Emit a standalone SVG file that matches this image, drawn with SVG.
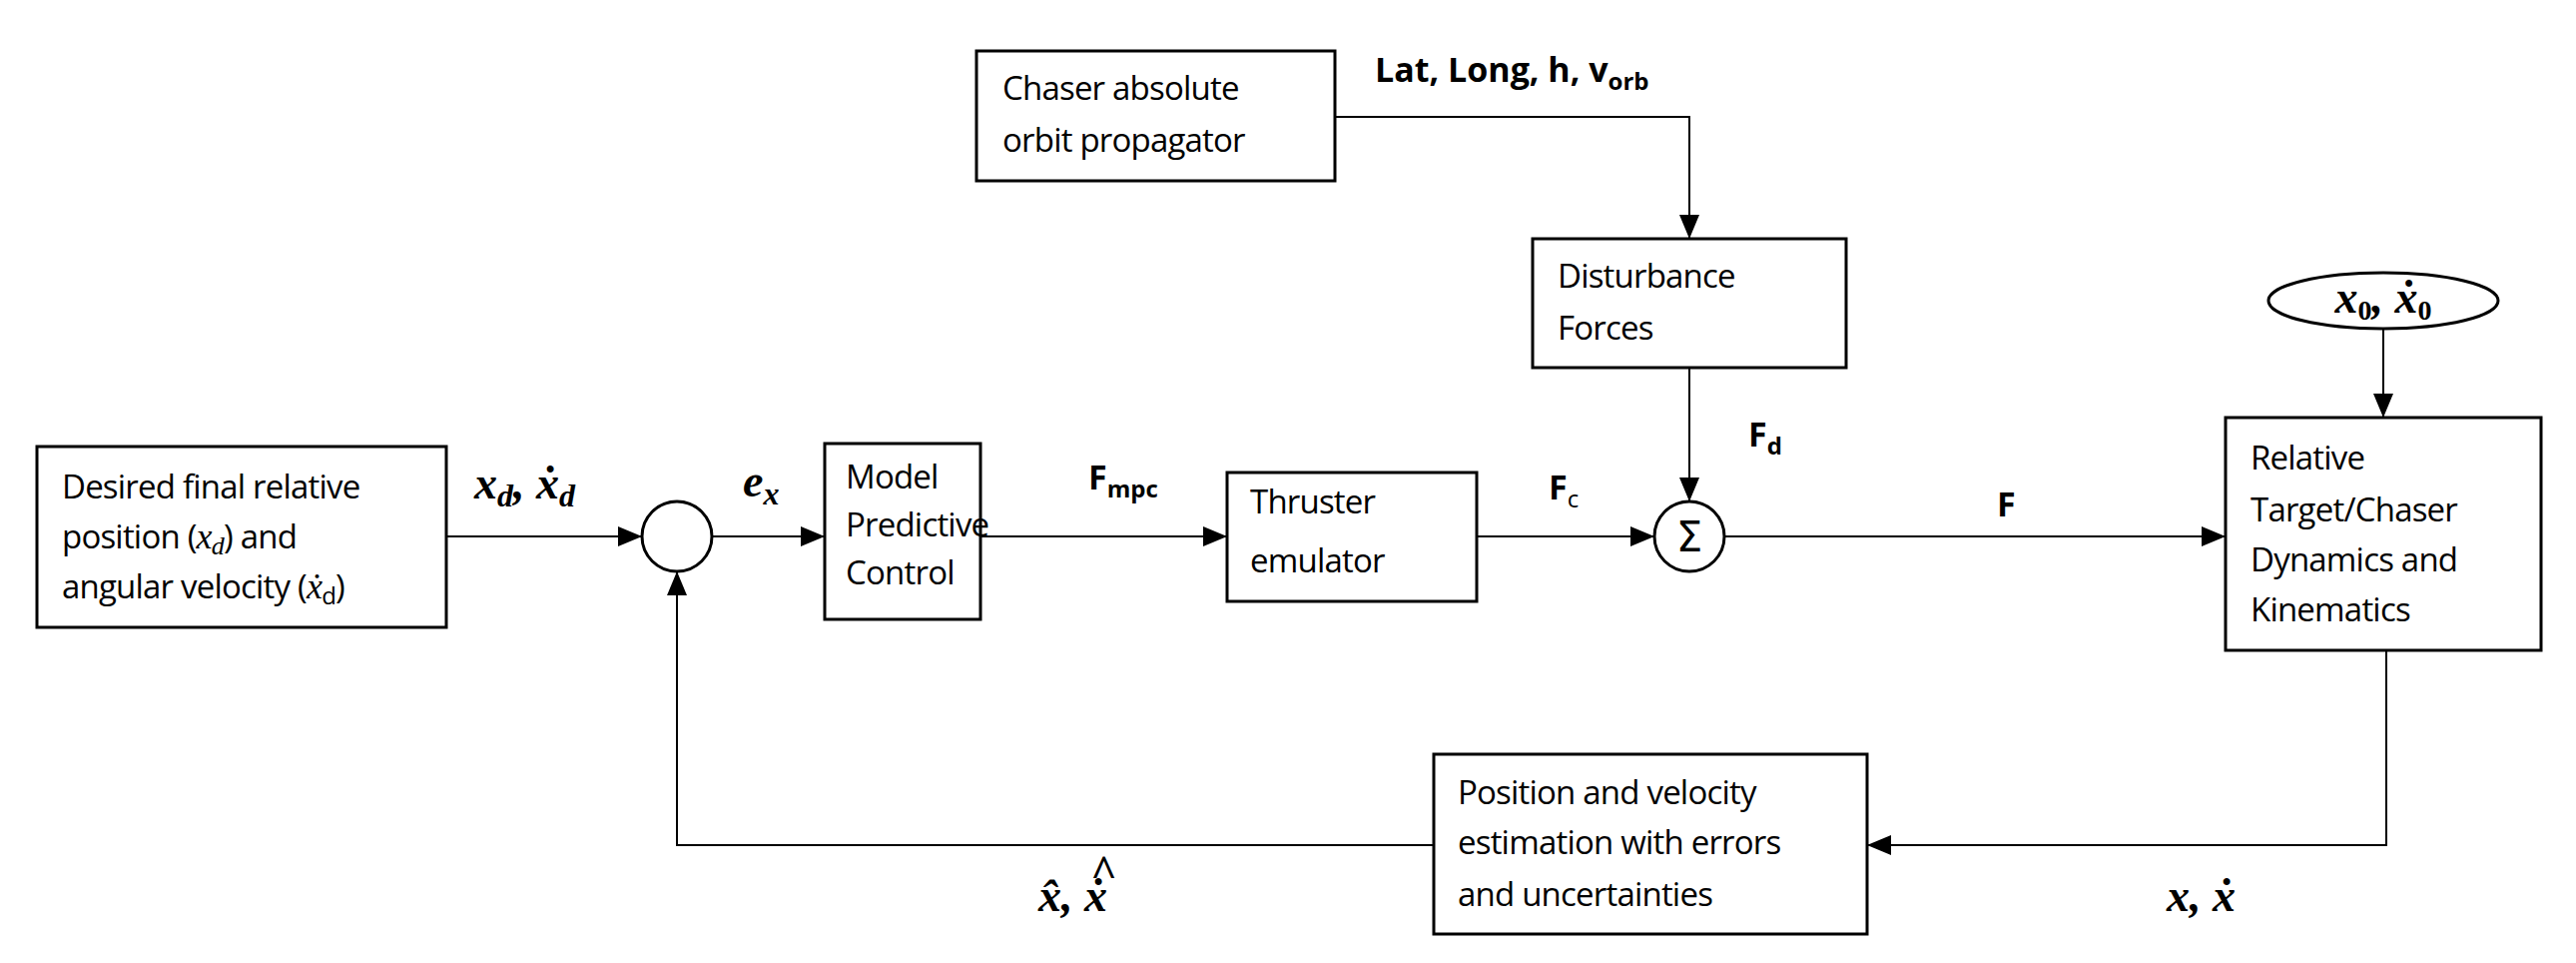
<svg xmlns="http://www.w3.org/2000/svg" width="2580" height="964" viewBox="0 0 2580 964">
<style>
.b{fill:#fff;stroke:#000;stroke-width:3}
.t{font-family:"Open Sans","Liberation Sans",sans-serif;font-size:33px;letter-spacing:-0.8px;fill:#000}
.m{font-family:"Liberation Serif",serif;font-style:italic;font-weight:bold;font-size:46px;fill:#000}
.s{font-family:"Open Sans","Liberation Sans",sans-serif;font-weight:bold;font-size:34px;fill:#000}
.c{fill:none;stroke:#000;stroke-width:2}
</style>
<defs><marker id="a2" markerWidth="24" markerHeight="20" refX="24" refY="10" orient="auto" markerUnits="userSpaceOnUse"><path d="M0,0L24,10L0,20z" fill="#000"/></marker></defs>
<rect width="2580" height="964" fill="#fff"/>
<g id="connectors">
<path class="c" d="M447,537H643" marker-end="url(#a2)"/>
<path class="c" d="M713,537H826" marker-end="url(#a2)"/>
<path class="c" d="M982,537H1229" marker-end="url(#a2)"/>
<path class="c" d="M1479,537H1657" marker-end="url(#a2)"/>
<path class="c" d="M1727,537H2229" marker-end="url(#a2)"/>
<path class="c" d="M1337,117H1692V239" marker-end="url(#a2)"/>
<path class="c" d="M1692,368V502" marker-end="url(#a2)"/>
<path class="c" d="M2387,329V418" marker-end="url(#a2)"/>
<path class="c" d="M2390,651V846H1870" marker-end="url(#a2)"/>
<path class="c" d="M1436,846H678V572" marker-end="url(#a2)"/>
</g>
<g id="desired"><rect class="b" x="37" y="447" width="410" height="181"/>
<text class="t" x="62" y="499">Desired final relative</text>
<text class="t" x="62" y="549">position (<tspan font-family="Liberation Serif" font-style="italic" font-size="36">x<tspan font-size="26" dy="6">d</tspan></tspan><tspan dy="-6">) and</tspan></text>
<text class="t" x="62" y="599">angular velocity (<tspan font-family="Liberation Serif" font-style="italic" font-size="36">ẋ</tspan><tspan font-size="24" dy="6">d</tspan><tspan dy="-6">)</tspan></text></g>
<g id="junction"><circle class="b" cx="678" cy="537" r="35"/></g>
<g id="mpc"><rect class="b" x="826" y="444" width="156" height="176"/>
<text class="t" x="847" y="489" font-size="31">Model</text><text class="t" x="847" y="537" font-size="31">Predictive</text><text class="t" x="847" y="585" font-size="31">Control</text></g>
<g id="thruster"><rect class="b" x="1229" y="473" width="250" height="129"/>
<text class="t" x="1252" y="514">Thruster</text><text class="t" x="1252" y="573">emulator</text></g>
<g id="sum"><circle class="b" cx="1692" cy="537" r="35"/>
<text x="1692" y="552" text-anchor="middle" font-family="DejaVu Sans,sans-serif" font-size="42">Σ</text></g>
<g id="chaser"><rect class="b" x="978" y="51" width="359" height="130"/>
<text class="t" x="1004" y="100">Chaser absolute</text><text class="t" x="1004" y="152">orbit propagator</text></g>
<g id="disturbance"><rect class="b" x="1535" y="239" width="314" height="129"/>
<text class="t" x="1560" y="288">Disturbance</text><text class="t" x="1560" y="340">Forces</text></g>
<g id="init"><ellipse class="b" cx="2387" cy="301" rx="115" ry="28"/>
<text class="m" x="2387" y="313" text-anchor="middle" font-size="40">x<tspan font-size="28" font-style="normal" dy="7">0</tspan><tspan dy="-7">, ẋ</tspan><tspan font-size="28" font-style="normal" dy="7">0</tspan></text></g>
<g id="relative"><rect class="b" x="2229" y="418" width="316" height="233"/>
<text class="t" x="2254" y="470">Relative</text><text class="t" x="2254" y="522">Target/Chaser</text><text class="t" x="2254" y="572">Dynamics and</text><text class="t" x="2254" y="622">Kinematics</text></g>
<g id="estimation"><rect class="b" x="1436" y="755" width="434" height="180"/>
<text class="t" x="1460" y="805">Position and velocity</text><text class="t" x="1460" y="855">estimation with errors</text><text class="t" x="1460" y="907">and uncertainties</text></g>
<g id="labels">
<text class="m" x="475" y="499">x<tspan font-size="32" dy="8">d</tspan><tspan dy="-8">, ẋ</tspan><tspan font-size="32" dy="8">d</tspan></text>
<text class="m" x="744" y="497">e<tspan font-size="32" dy="8">x</tspan></text>
<text class="s" x="1090" y="490">F<tspan font-size="24" dy="8">mpc</tspan></text>
<text class="s" x="1551" y="500">F<tspan font-size="24" font-weight="normal" dy="8">c</tspan></text>
<text class="s" x="1751" y="447">F<tspan font-size="24" dy="8">d</tspan></text>
<text class="s" x="2000" y="517">F</text>
<text class="s" x="1377" y="82">Lat, Long, h, v<tspan font-size="24" dy="8">orb</tspan></text>
<text class="m" x="1040" y="912">x̂, ẋ</text>
<text class="m" x="1092" y="888" font-size="28" font-style="normal">^</text>
<text class="m" x="2170" y="912">x, ẋ</text>
</g>
</svg>
